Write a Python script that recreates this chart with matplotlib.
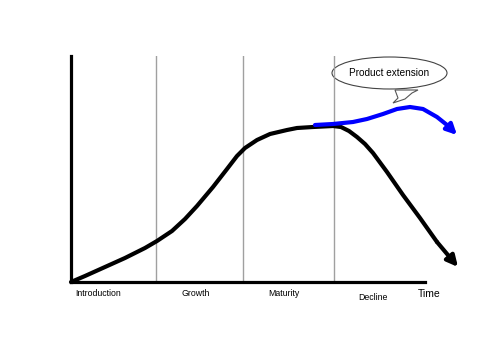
import matplotlib
matplotlib.use('Agg')
import matplotlib.pyplot as plt
from matplotlib.patches import Ellipse, Polygon

plt.rcParams['font.family'] = ['Liberation Sans', 'DejaVu Sans']

# product life cycle curve (time, sales)
life_t = [0, 14, 34, 54, 74, 86, 101, 114, 126, 142, 156, 166, 174, 186,
          199, 216, 226, 242, 262, 270, 278, 286, 294, 302, 316, 332, 349,
          366, 387]
life_s = [0, 6, 15, 24, 34, 41, 51, 63, 76, 95, 113, 126, 134, 142,
          148, 152, 154, 155, 156, 155, 151, 145, 138, 129, 110, 87, 64,
          40, 15]

# extension curve
ext_t = [244, 262, 282, 296, 312, 326, 339, 352, 366, 376, 386]
ext_s = [157, 158, 160, 163, 168, 173, 175, 173, 165, 157, 147]

stage_bounds = [85, 172, 263]
stage_names = ['Introduction', 'Growth', 'Maturity', 'Decline']
stage_label_x = [4, 110, 197, 287]
stage_label_y = [-12, -12, -12, -16]


def main():
    fig = plt.figure(figsize=(5, 3.54), dpi=100)
    ax = fig.add_axes([71 / 500, 72 / 354, 354 / 500, 226 / 354])
    ax.set_xlim(0, 354)
    ax.set_ylim(0, 226)
    for side in ['top', 'right']:
        ax.spines[side].set_visible(False)
    for side in ['left', 'bottom']:
        ax.spines[side].set_linewidth(2.3)
        ax.spines[side].set_color('black')
    ax.set_xticks([])
    ax.set_yticks([])

    for b in stage_bounds:
        ax.plot([b, b], [0, 226], color='#a0a0a0', lw=1)

    ax.plot(life_t[:-1], life_s[:-1], color='black', lw=3,
            solid_capstyle='round', solid_joinstyle='round', clip_on=False)
    ax.annotate('', xy=(life_t[-1], life_s[-1]), xytext=(life_t[-2], life_s[-2]),
                arrowprops=dict(arrowstyle='-|>', color='black', lw=3,
                                mutation_scale=16, shrinkA=0, shrinkB=0),
                annotation_clip=False)

    ax.plot(ext_t[:-1], ext_s[:-1], color='#0000ff', lw=3,
            solid_capstyle='round', solid_joinstyle='round', clip_on=False)
    ax.annotate('', xy=(ext_t[-1], ext_s[-1]), xytext=(ext_t[-2], ext_s[-2]),
                arrowprops=dict(arrowstyle='-|>', color='#0000ff', lw=3,
                                mutation_scale=15, shrinkA=0, shrinkB=0),
                annotation_clip=False)

    for name, x, y in zip(stage_names, stage_label_x, stage_label_y):
        ax.text(x, y, name, fontsize=6.3, ha='left', va='center')
    ax.text(347, -12, 'Time', fontsize=7.5, ha='left', va='center')

    # callout bubble
    tail = Polygon([(324, 192), (327, 184), (322, 179), (334, 183),
                    (341, 189), (347, 192)],
                   closed=True, facecolor='white', edgecolor='#555555', lw=0.8,
                   clip_on=False)
    ax.add_patch(tail)
    bubble = Ellipse((318.5, 209), 115, 32, facecolor='white',
                     edgecolor='#444444', lw=0.8, clip_on=False)
    ax.add_patch(bubble)
    ax.text(318.5, 209, 'Product extension', fontsize=7.2, ha='center', va='center')

    fig.savefig('out.png', dpi=100)


if __name__ == '__main__':
    main()
